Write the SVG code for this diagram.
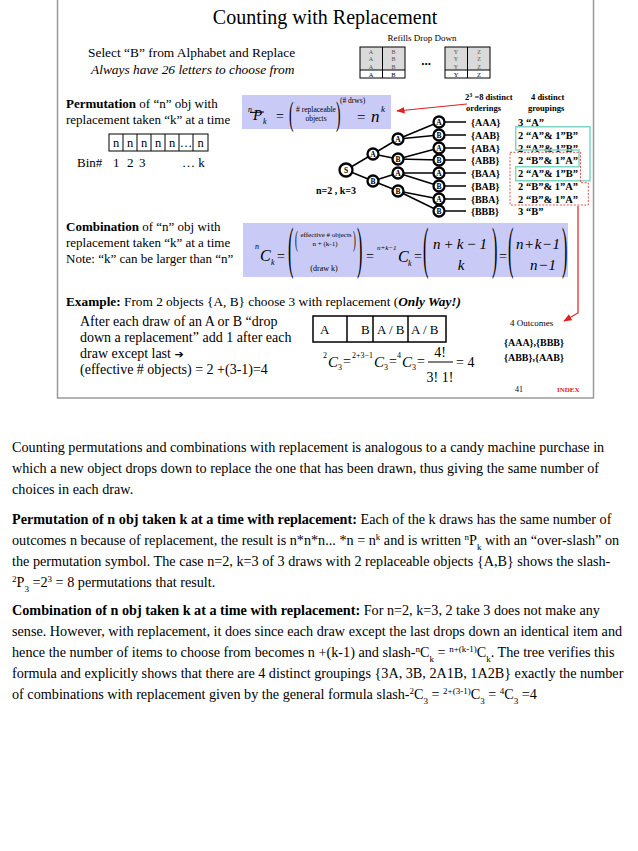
<svg xmlns="http://www.w3.org/2000/svg" width="638" height="851" viewBox="0 0 638 851">
<style>
text{font-family:"Liberation Serif","Times New Roman",serif;fill:#000}
.b{font-weight:bold}
.i{font-style:italic}
.node circle{fill:#fff;stroke:#000;stroke-width:2.3}
.node text{font-size:7.5px;font-weight:bold;text-anchor:middle}
.cn line{stroke:#000;stroke-width:1.5}
.box{fill:#cacaf6}
.cell{fill:none;stroke:#000;stroke-width:1}
.sup{font-size:9px}
.ord{font-size:10px;font-weight:bold}
.grp{font-size:10.5px;font-weight:bold}
</style>
<defs>
<marker id="ar" viewBox="0 0 10 10" refX="9" refY="5" markerWidth="7" markerHeight="7" orient="auto"><path d="M0,1 L10,5 L0,9 z" fill="#e02020"/></marker>
</defs>
<rect width="638" height="851" fill="#fff"/>
<rect x="57.5" y="-2" width="536" height="400" fill="none" stroke="#9a9a9a" stroke-width="1.5"/>

<g id="title"><text x="325" y="24" font-size="20" text-anchor="middle">Counting with Replacement</text></g>

<g id="refills">
<text x="422" y="41" font-size="9" text-anchor="middle">Refills Drop Down</text>
<rect x="360" y="47" width="45" height="23" fill="#dadada"/>
<rect x="445" y="47" width="45" height="23" fill="#dadada"/>
<rect x="360" y="47" width="45" height="31" class="cell"/>
<rect x="445" y="47" width="45" height="31" class="cell"/>
<line x1="382.5" y1="47" x2="382.5" y2="78" stroke="#000" stroke-width="1"/>
<line x1="467.5" y1="47" x2="467.5" y2="78" stroke="#000" stroke-width="1"/>
<line x1="360" y1="70" x2="405" y2="70" stroke="#000" stroke-width="1"/>
<line x1="445" y1="70" x2="490" y2="70" stroke="#000" stroke-width="1"/>
<g font-size="6" text-anchor="middle">
<text x="371" y="54" style="fill:#555">A</text><text x="371" y="61" style="fill:#555">A</text><text x="371" y="68.5" style="fill:#555">A</text>
<text x="393.5" y="54" style="fill:#555">B</text><text x="393.5" y="61" style="fill:#555">B</text><text x="393.5" y="68.5" style="fill:#555">B</text>
<text x="456" y="54" style="fill:#555">Y</text><text x="456" y="61" style="fill:#555">Y</text><text x="456" y="68.5" style="fill:#555">Y</text>
<text x="479" y="54" style="fill:#555">Z</text><text x="479" y="61" style="fill:#555">Z</text><text x="479" y="68.5" style="fill:#555">Z</text>
</g>
<g font-size="6.5" text-anchor="middle">
<text x="371" y="76.5">A</text><text x="393.5" y="76.5">B</text><text x="456" y="76.5">Y</text><text x="479" y="76.5">Z</text>
</g>
<text x="426" y="65" font-size="13" class="b" text-anchor="middle">...</text>
</g>

<g id="select">
<text x="88" y="57" font-size="13.4">Select “B” from Alphabet and Replace</text>
<text x="91" y="74" font-size="13.4" class="i">Always have 26 letters to choose from</text>
</g>

<g id="perm-text">
<text x="66" y="108" font-size="13"><tspan class="b">Permutation</tspan> of “n” obj with</text>
<text x="66" y="124" font-size="13">replacement taken “k” at a time</text>
</g>

<g id="perm-formula">
<rect x="242" y="95" width="149" height="34" class="box"/>
<text x="248" y="112" font-size="8" class="i">n</text>
<text x="253" y="120" font-size="15" class="i">P</text>
<line x1="250" y1="112.5" x2="264" y2="112" stroke="#000" stroke-width="1"/>
<text x="263" y="124" font-size="8" class="i">k</text>
<text x="276" y="121" font-size="14">=</text>
<text transform="translate(289,125) scale(0.4,1)" font-size="34">(</text>
<text x="316" y="112" font-size="7.5" text-anchor="middle"># replaceable</text>
<text x="316" y="121" font-size="7.5" text-anchor="middle">objects</text>
<text transform="translate(336,125) scale(0.4,1)" font-size="34">)</text>
<text x="340" y="103" font-size="7.5">(# drws)</text>
<text x="357" y="122" font-size="15">=</text>
<text x="371" y="122" font-size="17" class="i">n</text>
<text x="381" y="112" font-size="9" class="i">k</text>
</g>

<g id="bins">
<rect x="109" y="134" width="99" height="17" class="cell"/>
<g stroke="#000" stroke-width="1">
<line x1="123" y1="134" x2="123" y2="151"/><line x1="137" y1="134" x2="137" y2="151"/><line x1="151" y1="134" x2="151" y2="151"/><line x1="165" y1="134" x2="165" y2="151"/><line x1="179" y1="134" x2="179" y2="151"/><line x1="193" y1="134" x2="193" y2="151"/>
</g>
<g font-size="12.5" text-anchor="middle">
<text x="116" y="147">n</text><text x="130" y="147">n</text><text x="144" y="147">n</text><text x="158" y="147">n</text><text x="172" y="147">n</text><text x="186" y="147">…</text><text x="200.5" y="147">n</text>
</g>
<text x="77" y="167" font-size="13">Bin#</text>
<text x="113" y="167" font-size="13">1</text>
<text x="127" y="167" font-size="13">2</text>
<text x="139" y="167" font-size="13">3</text>
<text x="182" y="167" font-size="13">… k</text>
</g>

<g id="connectors" class="cn">
<line x1="346" y1="170" x2="373" y2="154"/><line x1="346" y1="170" x2="373" y2="181"/>
<line x1="373" y1="154" x2="398" y2="139"/><line x1="373" y1="154" x2="398" y2="159"/>
<line x1="373" y1="181" x2="398" y2="173"/><line x1="373" y1="181" x2="398" y2="191"/>
<line x1="398" y1="139" x2="439" y2="122"/><line x1="398" y1="139" x2="439" y2="135"/>
<line x1="398" y1="159" x2="439" y2="148"/><line x1="398" y1="159" x2="439" y2="160"/>
<line x1="398" y1="173" x2="439" y2="173"/><line x1="398" y1="173" x2="439" y2="186"/>
<line x1="398" y1="191" x2="439" y2="199"/><line x1="398" y1="191" x2="439" y2="211"/>
<line x1="445" y1="122" x2="466" y2="122"/><line x1="445" y1="135" x2="466" y2="135"/><line x1="445" y1="148" x2="466" y2="148"/><line x1="445" y1="160" x2="466" y2="160"/>
<line x1="445" y1="173" x2="466" y2="173"/><line x1="445" y1="186" x2="466" y2="186"/><line x1="445" y1="199" x2="466" y2="199"/><line x1="445" y1="211" x2="466" y2="211"/>
<line x1="467" y1="104" x2="397" y2="111" style="stroke:#e02020;stroke-width:1.2" marker-end="url(#ar)"/>
<polyline points="578,206 578,313 564,321" fill="none" stroke="#e02020" stroke-width="1.2" marker-end="url(#ar)"/>
</g>

<g id="node-S" class="node"><circle cx="346" cy="170" r="6.5"/><text x="346" y="172.7">S</text></g>
<g id="node-A1" class="node"><circle cx="373" cy="154" r="5.5"/><text x="373" y="156.7">A</text></g>
<g id="node-B1" class="node"><circle cx="373" cy="181" r="5.5"/><text x="373" y="183.7">B</text></g>
<g id="node-AA" class="node"><circle cx="398" cy="139" r="5.5"/><text x="398" y="141.7">A</text></g>
<g id="node-AB" class="node"><circle cx="398" cy="159" r="5.5"/><text x="398" y="161.7">B</text></g>
<g id="node-BA" class="node"><circle cx="398" cy="173" r="5.5"/><text x="398" y="175.7">A</text></g>
<g id="node-BB" class="node"><circle cx="398" cy="191" r="5.5"/><text x="398" y="193.7">B</text></g>
<g id="node-AAA" class="node"><circle cx="439" cy="122" r="5.5"/><text x="439" y="124.7">A</text></g>
<g id="node-AAB" class="node"><circle cx="439" cy="135" r="5.5"/><text x="439" y="137.7">B</text></g>
<g id="node-ABA" class="node"><circle cx="439" cy="148" r="5.5"/><text x="439" y="150.7">A</text></g>
<g id="node-ABB" class="node"><circle cx="439" cy="160" r="5.5"/><text x="439" y="162.7">B</text></g>
<g id="node-BAA" class="node"><circle cx="439" cy="173" r="5.5"/><text x="439" y="175.7">A</text></g>
<g id="node-BAB" class="node"><circle cx="439" cy="186" r="5.5"/><text x="439" y="188.7">B</text></g>
<g id="node-BBA" class="node"><circle cx="439" cy="199" r="5.5"/><text x="439" y="201.7">A</text></g>
<g id="node-BBB" class="node"><circle cx="439" cy="211" r="5.5"/><text x="439" y="213.7">B</text></g>

<g id="orderings">
<text x="471" y="125.5" class="ord">{AAA}</text>
<text x="471" y="138.5" class="ord">{AAB}</text>
<text x="471" y="151.5" class="ord">{ABA}</text>
<text x="471" y="163.5" class="ord">{ABB}</text>
<text x="471" y="176.5" class="ord">{BAA}</text>
<text x="471" y="189.5" class="ord">{BAB}</text>
<text x="471" y="202.5" class="ord">{BBA}</text>
<text x="471" y="214.5" class="ord">{BBB}</text>
</g>
<g id="groupings">
<text x="518" y="125.5" class="grp">3 “A”</text>
<text x="518" y="138.5" class="grp">2 “A”&amp; 1”B”</text>
<text x="518" y="151.5" class="grp">2 “A”&amp; 1”B”</text>
<text x="518" y="163.5" class="grp">2 “B”&amp; 1”A”</text>
<text x="518" y="176.5" class="grp">2 “A”&amp; 1”B”</text>
<text x="518" y="189.5" class="grp">2 “B”&amp; 1”A”</text>
<text x="518" y="202.5" class="grp">2 “B”&amp; 1”A”</text>
<text x="518" y="214.5" class="grp">3 “B”</text>
<polygon points="515.7,126.7 590,126.7 590,180.7 515.7,180.7 515.7,166.7 579,166.7 579,150 515.7,150" fill="none" stroke="#7fd6c4" stroke-width="1.5"/>
<polygon points="510,152.3 580.5,152.3 580.5,182.7 588.3,182.7 588.3,205 510,205" fill="none" stroke="#e05050" stroke-width="1" stroke-dasharray="2,1.5"/>
</g>
<g id="headers">
<text x="465" y="100" font-size="8.5" class="b">2<tspan font-size="6" baseline-shift="super">3</tspan> =8 distinct</text>
<text x="466" y="111" font-size="8.5" class="b">orderings</text>
<text x="531" y="100" font-size="8.5" class="b">4 distinct</text>
<text x="528" y="111" font-size="8.5" class="b">groupings</text>
</g>
<g id="nk"><text x="316" y="194" font-size="10" class="b">n=2 , k=3</text></g>

<g id="comb-text">
<text x="66" y="231" font-size="13"><tspan class="b">Combination</tspan> of “n” obj with</text>
<text x="66" y="247" font-size="13">replacement taken “k” at a time</text>
<text x="66" y="263" font-size="13">Note: “k” can be larger than “n”</text>
</g>

<g id="comb-formula">
<rect x="243" y="223" width="325" height="54" class="box"/>
<text x="255" y="249" font-size="8" class="i">n</text>
<text x="260" y="261" font-size="16" class="i">C</text>
<text x="271" y="265" font-size="8" class="i">k</text>
<text x="277" y="261" font-size="14">=</text>
<text transform="translate(288,267) scale(0.28,1)" font-size="58">(</text>
<text transform="translate(295,247) scale(0.35,1)" font-size="24">(</text>
<text x="326" y="237" font-size="7" text-anchor="middle">effective # objects</text>
<text x="325" y="246" font-size="7" text-anchor="middle">n + (k-1)</text>
<text transform="translate(353,247) scale(0.35,1)" font-size="24">)</text>
<text x="324" y="271" font-size="8" text-anchor="middle">(draw k)</text>
<text transform="translate(357,267) scale(0.28,1)" font-size="58">)</text>
<text x="366" y="261" font-size="14">=</text>
<text x="377" y="250" font-size="7" class="i">n+k−1</text>
<text x="398" y="262" font-size="16" class="i">C</text>
<text x="408" y="266" font-size="8" class="i">k</text>
<text x="414" y="261" font-size="14">=</text>
<text transform="translate(423,267) scale(0.28,1)" font-size="58">(</text>
<text x="433" y="249" font-size="15" class="i" textLength="54" lengthAdjust="spacing">n+k−1</text>
<text x="461" y="270" font-size="15" class="i" text-anchor="middle">k</text>
<text transform="translate(492,267) scale(0.28,1)" font-size="58">)</text>
<text x="499" y="261" font-size="14">=</text>
<text transform="translate(508,267) scale(0.28,1)" font-size="58">(</text>
<text x="516" y="249" font-size="15" class="i" textLength="44" lengthAdjust="spacing">n+k−1</text>
<text x="530" y="270" font-size="15" class="i" textLength="26" lengthAdjust="spacing">n−1</text>
<text transform="translate(562,267) scale(0.28,1)" font-size="58">)</text>
</g>

<g id="example">
<text x="66" y="306" font-size="13.3"><tspan class="b">Example:</tspan> From 2 objects {A, B} choose 3 with replacement (<tspan class="b i">Only Way!)</tspan></text>
<text x="80" y="326" font-size="14">After each draw of an A or B “drop</text>
<text x="80" y="342" font-size="14">down a replacement”  add 1 after each</text>
<text x="80" y="358" font-size="14">draw except last <tspan font-family="DejaVu Sans" font-weight="bold" font-size="11">➔</tspan></text>
<text x="80" y="374" font-size="14">(effective # objects) = 2 +(3-1)=4</text>
</g>

<g id="draw-boxes">
<rect x="313" y="316" width="133" height="26" fill="none" stroke="#000" stroke-width="1.5"/>
<g stroke="#000" stroke-width="1.5"><line x1="347" y1="316" x2="347" y2="342"/><line x1="373" y1="316" x2="373" y2="342"/><line x1="408" y1="316" x2="408" y2="342"/></g>
<text x="320" y="334" font-size="13">A</text>
<text x="361" y="334" font-size="13">B</text>
<text x="377" y="334" font-size="13">A / B</text>
<text x="411" y="334" font-size="13">A / B</text>
</g>

<g id="example-formula">
<text x="323" y="358" font-size="8">2</text>
<text x="328" y="367" font-size="15" class="i">C</text>
<text x="338" y="370" font-size="8">3</text>
<text x="343" y="366" font-size="14">=</text>
<text x="352" y="358" font-size="8">2+3−1</text>
<text x="374" y="367" font-size="15" class="i">C</text>
<text x="384" y="370" font-size="8">3</text>
<text x="389" y="366" font-size="14">=</text>
<text x="397" y="358" font-size="8">4</text>
<text x="402" y="367" font-size="15" class="i">C</text>
<text x="412" y="370" font-size="8">3</text>
<text x="417" y="366" font-size="14">=</text>
<text x="440" y="357" font-size="14" text-anchor="middle">4!</text>
<line x1="428" y1="362" x2="453" y2="362" stroke="#000" stroke-width="1"/>
<text x="440" y="382" font-size="14" text-anchor="middle">3! 1!</text>
<text x="456" y="367" font-size="14">= 4</text>
</g>

<g id="outcomes">
<text x="510" y="326" font-size="9">4 Outcomes</text>
<text x="504" y="346" font-size="10" class="b">{AAA},{BBB}</text>
<text x="504" y="361" font-size="10" class="b">{ABB},{AAB}</text>
<text x="515" y="392" font-size="8">41</text>
<text x="557" y="392" font-size="7" class="b" style="fill:#e02020">INDEX</text>
</g>

<g id="body">
<text x="12" y="452" font-size="14.2">Counting permutations and combinations with replacement is analogous to a candy machine purchase in</text>
<text x="12" y="473" font-size="14.2">which a new object drops down to replace the one that has been drawn, thus giving the same number of</text>
<text x="12" y="494" font-size="14.2">choices in each draw.</text>
<text x="12" y="524" font-size="14.2"><tspan class="b">Permutation of n obj taken k at a time with replacement:</tspan> Each of the k draws has the same number of</text>
<text x="12" y="545" font-size="14.2">outcomes n because of replacement, the result is n*n*n... *n = n<tspan class="sup" baseline-shift="super">k</tspan> and is written <tspan class="sup" baseline-shift="super">n</tspan>P<tspan class="sup" baseline-shift="sub">k</tspan>  with an “over-slash” on</text>
<text x="12" y="566" font-size="14.2">the permutation symbol. The case n=2, k=3  of 3 draws with 2 replaceable objects {A,B} shows the slash-</text>
<text x="12" y="587" font-size="14.2"><tspan class="sup" baseline-shift="super">2</tspan>P<tspan class="sup" baseline-shift="sub">3</tspan> =2<tspan class="sup" baseline-shift="super">3</tspan> = 8 permutations that result.</text>
<text x="12" y="615" font-size="14.2"><tspan class="b">Combination of n obj taken k at a time with replacement:</tspan>  For n=2, k=3, 2 take 3 does not make any</text>
<text x="12" y="636" font-size="14.2">sense. However, with replacement, it does since each draw except the last drops down an identical item and</text>
<text x="12" y="657" font-size="14.2">hence the number of items to choose from becomes n +(k-1) and slash-<tspan class="sup" baseline-shift="super">n</tspan>C<tspan class="sup" baseline-shift="sub">k</tspan> = <tspan class="sup" baseline-shift="super">n+(k-1)</tspan>C<tspan class="sup" baseline-shift="sub">k</tspan>. The tree verifies this</text>
<text x="12" y="678" font-size="14.2">formula and explicitly shows that there are 4 distinct groupings {3A, 3B, 2A1B, 1A2B} exactly the number</text>
<text x="12" y="699" font-size="14.2">of combinations with replacement given by the general formula  slash-<tspan class="sup" baseline-shift="super">2</tspan>C<tspan class="sup" baseline-shift="sub">3</tspan> = <tspan class="sup" baseline-shift="super">2+(3-1)</tspan>C<tspan class="sup" baseline-shift="sub">3</tspan> = <tspan class="sup" baseline-shift="super">4</tspan>C<tspan class="sup" baseline-shift="sub">3</tspan> =4</text>
</g>
</svg>
